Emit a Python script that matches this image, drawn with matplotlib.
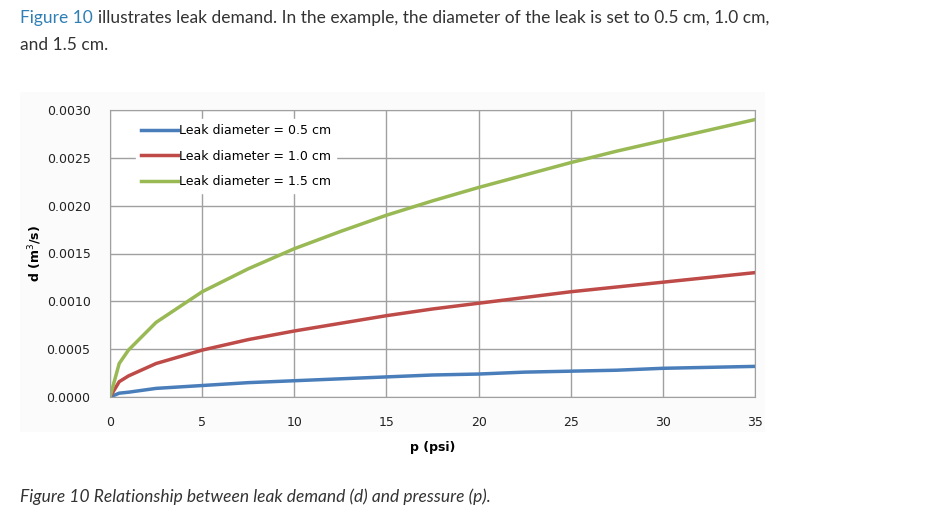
import matplotlib.pyplot as plt

p_psi = [0, 0.5, 1, 2.5, 5, 7.5, 10, 12.5, 15, 17.5, 20, 22.5, 25, 27.5, 30, 32.5, 35]
d_05 = [0, 0.00004, 0.00005, 0.00009, 0.00012, 0.00015, 0.00017, 0.00019, 0.00021,
        0.00023, 0.00024, 0.00026, 0.00027, 0.00028, 0.00030, 0.00031, 0.00032]
d_10 = [0, 0.00016, 0.00022, 0.00035, 0.00049, 0.00060, 0.00069, 0.00077, 0.00085,
        0.00092, 0.00098, 0.00104, 0.00110, 0.00115, 0.00120, 0.00125, 0.00130]
d_15 = [0, 0.00035, 0.00049, 0.00078, 0.00110, 0.00134, 0.00155, 0.00173, 0.00190,
        0.00205, 0.00219, 0.00232, 0.00245, 0.00257, 0.00268, 0.00279, 0.00290]
labels = ['Leak diameter = 0.5 cm', 'Leak diameter = 1.0 cm', 'Leak diameter = 1.5 cm']
colors = ['#4a7ebb', '#be4b48', '#98b954']

fig = plt.figure(figsize=(9.47, 5.14), dpi=100)

# light panel behind the chart
bg = fig.add_axes([20 / 947, 1 - 432 / 514, 745 / 947, 340 / 514], zorder=0)
bg.set_facecolor('#fbfbfb')
bg.set_xticks([])
bg.set_yticks([])
for s in bg.spines.values():
    s.set_visible(False)

fig.text(20 / 947, 1 - 18 / 514, 'Figure 10', color='#2f7fb5', fontsize=12.5,
         family='Lato', va='center')
fig.text(98 / 947, 1 - 18 / 514,
         'illustrates leak demand. In the example, the diameter of the leak is set to 0.5 cm, 1.0 cm,',
         color='#333333', fontsize=12.5, family='Lato', va='center')
fig.text(20 / 947, 1 - 45 / 514, 'and 1.5 cm.', color='#333333', fontsize=12.5,
         family='Lato', va='center')
fig.text(20 / 947, 1 - 497 / 514,
         'Figure 10 Relationship between leak demand (d) and pressure (p).',
         color='#333333', fontsize=12.5, family='Lato', style='italic', va='center')

ax = fig.add_axes([110 / 947, 1 - 397 / 514, 645 / 947, 287 / 514], zorder=2)
for y, lab, c in zip([d_05, d_10, d_15], labels, colors):
    ax.plot(p_psi, y, color=c, lw=2.5, label=lab)
ax.set_xlim(0, 35)
ax.set_ylim(0, 0.003)
ax.set_xticks(range(0, 36, 5))
ax.set_yticks([0, 0.0005, 0.001, 0.0015, 0.002, 0.0025, 0.003])
ax.set_yticklabels([f'{v:.4f}' for v in ax.get_yticks()])
ax.grid(True, color='#a0a0a0', lw=1)
ax.set_axisbelow(True)
ax.set_facecolor('white')
for s in ax.spines.values():
    s.set_color('#a0a0a0')
ax.tick_params(length=0, labelsize=9, colors='#222222')
ax.tick_params(axis='x', pad=14)
ax.tick_params(axis='y', pad=14)
ax.set_xlabel('p (psi)', fontsize=9, fontweight='bold', labelpad=8)
ax.set_ylabel('d (m$^3$/s)', fontsize=9, fontweight='bold', labelpad=2)
ax.legend(loc='upper left', bbox_to_anchor=(0.03, 0.99), frameon=True,
          fancybox=False, edgecolor='white', framealpha=1, fontsize=9,
          handlelength=3, handletextpad=0.1, labelspacing=1.0)

fig.savefig('out.png', dpi=100)
